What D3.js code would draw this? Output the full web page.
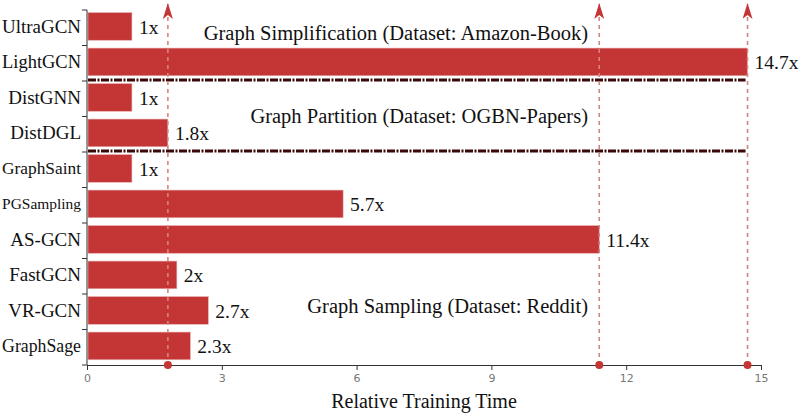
<!DOCTYPE html>
<html>
<head>
<meta charset="utf-8">
<script src="https://cdn.jsdelivr.net/npm/d3@7"></script>
<style>
  body { margin: 0; background: #fff; }
  svg { display: block; }
</style>
</head>
<body>
<svg id="chart"></svg>
<script>
const methods = ["UltraGCN", "LightGCN", "DistGNN", "DistDGL", "GraphSaint",
                 "PGSampling", "AS-GCN", "FastGCN", "VR-GCN", "GraphSage"];
const speedups = [1, 14.7, 1, 1.8, 1, 5.7, 11.4, 2, 2.7, 2.3];
const xTicks = [0, 3, 6, 9, 12, 15];
const markers = [1.8, 11.4, 14.7];
const sections = [
    "Graph Simplification (Dataset: Amazon-Book)",
    "Graph Partition (Dataset: OGBN-Papers)",
    "Graph Sampling (Dataset: Reddit)"
];
const dividerAfter = ["LightGCN", "DistDGL"];

const width = 804, height = 418;
const plotLeft = 87, plotRight = 761, plotTop = 10, plotBottom = 365;
const serif = "'Liberation Serif', 'Times New Roman', serif";
const red = "#c43535";

const svg = d3.select("#chart").attr("width", width).attr("height", height);

const x = d3.scaleLinear().domain([0, 15]).range([plotLeft, plotRight]);
const y = d3.scaleBand().domain(methods).range([plotTop, plotBottom])
    .paddingInner(0.22).paddingOuter(0.11).align(0.33);
const step = y.step();
const edge = i => plotTop + i * step;

// bars
svg.selectAll(".bar")
    .data(methods)
    .enter().append("rect")
    .attr("class", "bar")
    .attr("x", x(0) + 1)
    .attr("y", d => y(d))
    .attr("width", (d, i) => x(speedups[i]) - x(0) - 1)
    .attr("height", y.bandwidth())
    .attr("fill", red)
    .attr("stroke", "#e9b0b0")
    .attr("stroke-width", 0.6);

// value labels
svg.selectAll(".val")
    .data(methods)
    .enter().append("text")
    .attr("class", "val")
    .attr("x", (d, i) => x(speedups[i]) + 7)
    .attr("y", d => y(d) + y.bandwidth() / 2 + 1)
    .attr("dominant-baseline", "central")
    .style("font-family", serif)
    .style("font-size", "19.5px")
    .attr("fill", "#111")
    .text((d, i) => speedups[i] + "x");

// section dividers
svg.selectAll(".divider")
    .data(dividerAfter)
    .enter().append("line")
    .attr("class", "divider")
    .attr("x1", x(0) + 1)
    .attr("x2", x(14.7) - 2)
    .attr("y1", d => edge(methods.indexOf(d) + 1) - 1)
    .attr("y2", d => edge(methods.indexOf(d) + 1) - 1)
    .attr("stroke", "#3a0808")
    .attr("stroke-width", 3)
    .attr("stroke-dasharray", "8,1.5,2,1.5");

// marker lines with arrows
svg.append("defs").append("marker")
    .attr("id", "arrow")
    .attr("viewBox", "0 0 16 10")
    .attr("refX", 15).attr("refY", 5)
    .attr("markerWidth", 16).attr("markerHeight", 10)
    .attr("markerUnits", "userSpaceOnUse")
    .attr("orient", "auto")
    .append("path")
    .attr("d", "M16,5 L0,0 L4,5 L0,10 Z")
    .attr("fill", red);

svg.selectAll(".marker")
    .data(markers)
    .enter().append("line")
    .attr("class", "marker")
    .attr("x1", d => x(d)).attr("x2", d => x(d))
    .attr("y1", plotBottom).attr("y2", 4)
    .attr("stroke", "#d38585")
    .attr("stroke-width", 1.6)
    .attr("stroke-dasharray", "4,4")
    .attr("marker-end", "url(#arrow)");

// axes
const xAxis = svg.append("g")
    .attr("transform", `translate(0,${plotBottom})`)
    .call(d3.axisBottom(x).tickValues(xTicks).tickSize(5).tickPadding(4));
xAxis.select(".domain").attr("stroke", "#333");
xAxis.selectAll(".tick line").attr("stroke", "#333");
xAxis.selectAll(".tick text")
    .style("font-family", "'DejaVu Sans', sans-serif")
    .style("font-size", "11px")
    .attr("fill", "#777");

svg.selectAll(".dot")
    .data(markers)
    .enter().append("circle")
    .attr("class", "dot")
    .attr("cx", d => x(d)).attr("cy", plotBottom)
    .attr("r", 4)
    .attr("fill", red);

const yAxis = svg.append("g");
yAxis.append("line")
    .attr("x1", plotLeft).attr("x2", plotLeft)
    .attr("y1", plotTop).attr("y2", plotBottom)
    .attr("stroke", "#333");
yAxis.selectAll(".ytick")
    .data(d3.range(methods.length + 1))
    .enter().append("line")
    .attr("class", "ytick")
    .attr("x1", plotLeft - 5).attr("x2", plotLeft)
    .attr("y1", edge).attr("y2", edge)
    .attr("stroke", "#333");

yAxis.selectAll(".ylab")
    .data(methods)
    .enter().append("text")
    .attr("class", "ylab")
    .attr("x", 81)
    .attr("y", d => y(d) + y.bandwidth() / 2)
    .attr("text-anchor", "end")
    .attr("dominant-baseline", "central")
    .style("font-family", serif)
    .style("font-size", "19px")
    .attr("fill", "#111")
    .text(d => d)
    .each(function () {
        // shrink labels that do not fit in the left margin
        const w = this.getComputedTextLength();
        if (w > 79) d3.select(this).style("font-size", (19 * 79 / w) + "px");
    });

// section titles
const titleY = [33, 116, 306];
svg.selectAll(".section")
    .data(sections)
    .enter().append("text")
    .attr("class", "section")
    .attr("x", 588)
    .attr("y", (d, i) => titleY[i])
    .attr("text-anchor", "end")
    .attr("dominant-baseline", "central")
    .style("font-family", serif)
    .style("font-size", "20.5px")
    .attr("fill", "#111")
    .text(d => d);

svg.append("text")
    .attr("x", (plotLeft + plotRight) / 2)
    .attr("y", 401)
    .attr("text-anchor", "middle")
    .attr("dominant-baseline", "central")
    .style("font-family", serif)
    .style("font-size", "20px")
    .attr("fill", "#111")
    .text("Relative Training Time");
</script>
</body>
</html>
